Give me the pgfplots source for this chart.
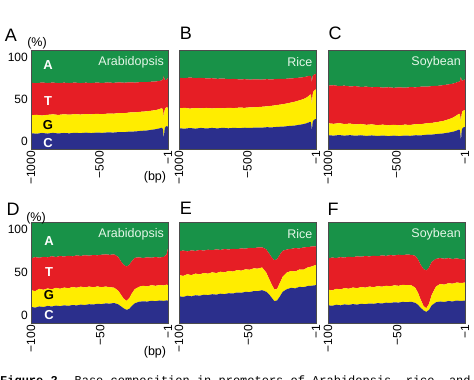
\documentclass[border=0pt]{standalone}
\usepackage{fontspec}
\setmainfont{Liberation Sans}
\newfontfamily\capfont{Liberation Mono}
\usepackage{pgfplots}
\pgfplotsset{compat=1.18}
\usepackage{pgfplotstable}

\definecolor{cA}{RGB}{24,146,72}
\definecolor{cT}{RGB}{230,30,37}
\definecolor{cG}{RGB}{255,237,0}
\definecolor{cC}{RGB}{43,47,140}
\definecolor{speccol}{RGB}{228,246,232}

% cumulative boundaries: b1 = C, b2 = C+G, b3 = C+G+T (percent)
\pgfplotstableread{
x b1 b2 b3
-1000 16.0 34.0 67.0
-960 15.4 34.6 66.4
-920 16.2 33.8 67.2
-880 15.6 34.5 66.6
-840 16.3 35.0 67.1
-800 15.7 34.4 66.5
-760 16.2 35.1 67.0
-720 15.8 34.6 66.6
-680 16.4 35.2 67.1
-640 16.0 34.8 66.5
-600 16.5 35.3 67.0
-560 16.1 35.0 66.6
-520 16.6 35.5 67.1
-480 16.3 35.1 66.7
-440 16.8 35.8 67.2
-400 16.6 35.6 66.8
-360 17.1 36.3 67.3
-320 17.0 36.2 66.9
-280 17.6 36.9 67.4
-240 17.7 37.0 67.1
-200 18.3 37.6 67.6
-160 18.6 38.0 67.5
-120 19.4 38.7 68.0
-90 20.0 39.3 68.2
-70 20.6 40.0 68.6
-55 21.2 40.8 69.0
-45 21.5 41.0 69.5
-38 20.0 40.0 70.5
-34 14.0 35.0 72.0
-32 11.0 31.0 74.0
-30 13.0 33.0 73.0
-27 18.5 38.0 71.0
-23 21.5 40.5 69.5
-18 22.5 41.5 69.5
-12 23.0 42.0 70.0
-6 23.0 42.0 71.0
-1 22.0 41.0 72.0
}\tabA

\pgfplotstableread{
x b1 b2 b3
-1000 21.0 41.0 72.0
-960 20.5 41.6 71.5
-920 21.2 40.8 72.2
-880 20.6 41.4 71.6
-840 21.3 41.0 71.9
-800 20.7 41.5 71.3
-760 21.3 40.9 71.5
-720 20.8 41.4 70.9
-680 21.4 41.1 71.2
-640 20.9 41.6 70.6
-600 21.4 41.3 70.8
-560 21.0 41.8 70.3
-520 21.5 41.6 70.5
-480 21.2 42.1 70.1
-440 21.7 42.2 70.4
-400 21.5 42.6 70.1
-360 22.0 43.1 70.5
-320 21.9 43.7 70.3
-280 22.4 44.5 70.8
-240 22.6 45.3 70.7
-200 23.2 46.4 71.2
-160 23.6 47.6 71.5
-120 24.5 49.2 72.1
-90 25.2 50.6 72.6
-70 26.0 52.0 73.2
-55 26.8 53.4 73.8
-45 27.4 54.8 74.0
-38 27.0 55.0 73.5
-34 23.0 50.0 71.0
-31 19.0 44.0 67.0
-29 21.0 46.0 69.0
-26 26.5 54.0 73.5
-22 28.5 57.5 74.6
-16 29.2 58.6 75.0
-10 30.0 59.5 75.4
-5 30.2 60.0 75.8
-1 30.0 60.0 76.0
}\tabB

\pgfplotstableread{
x b1 b2 b3
-1000 14.0 26.0 64.0
-960 13.5 25.4 64.4
-920 14.1 26.1 63.6
-880 13.5 25.2 64.0
-840 14.0 25.7 63.2
-800 13.4 24.8 63.5
-760 13.9 25.3 62.7
-720 13.2 24.4 63.0
-680 13.7 24.9 62.3
-640 13.1 24.1 62.7
-600 13.6 24.6 62.0
-560 13.0 23.9 62.4
-520 13.5 24.5 61.8
-480 13.0 23.9 62.3
-440 13.6 24.6 61.9
-400 13.3 24.3 62.5
-360 13.9 25.1 62.3
-320 13.8 25.1 63.0
-280 14.4 26.0 62.9
-240 14.6 26.4 63.6
-200 15.2 27.3 63.8
-160 15.7 28.3 64.5
-120 16.6 30.0 65.3
-90 17.4 31.6 66.0
-70 18.2 33.2 66.8
-55 19.0 34.6 67.6
-45 19.6 35.6 68.0
-38 19.0 35.5 68.5
-34 14.0 31.0 71.0
-31 9.0 27.0 73.0
-29 10.5 28.5 72.0
-26 17.5 34.5 69.5
-22 20.5 37.5 69.0
-16 21.4 38.4 69.4
-10 22.0 39.0 69.8
-5 22.2 39.2 70.0
-1 22.0 39.0 70.0
}\tabC

\pgfplotstableread{
x b1 b2 b3
-100 16.0 32.5 64.0
-97 15.2 31.5 65.2
-94 16.4 33.8 64.6
-91 15.8 32.9 65.5
-88 16.9 34.2 65.0
-85 16.3 33.4 66.1
-82 17.2 34.8 65.4
-79 16.7 33.9 66.3
-76 17.5 35.1 65.8
-73 17.0 34.4 66.6
-70 17.8 35.6 66.0
-67 17.4 34.9 66.9
-64 18.2 36.0 66.4
-61 17.8 35.2 67.1
-58 18.6 36.1 66.7
-55 18.3 35.4 67.3
-52 19.0 36.2 67.0
-49 18.7 35.5 67.6
-46 19.4 36.1 67.9
-43 19.2 35.4 67.5
-40 19.8 35.0 68.0
-37 18.5 32.0 65.5
-35 16.5 28.0 61.0
-33 14.5 24.0 57.5
-31 13.0 22.0 56.0
-29 14.0 24.5 57.5
-27 17.0 29.5 61.5
-25 19.5 33.5 64.5
-22 21.0 35.8 65.0
-19 21.5 36.9 64.3
-16 21.2 36.2 65.1
-13 22.0 37.4 64.6
-10 21.6 36.8 65.3
-7 22.3 37.6 64.8
-4 21.9 37.1 65.6
-2 22.4 38.0 68.0
-1 22.0 37.5 74.0
}\tabD

\pgfplotstableread{
x b1 b2 b3
-100 26.5 47.5 71.0
-97 25.8 46.6 71.8
-94 27.0 48.3 70.9
-91 26.4 47.4 71.9
-88 27.5 48.9 71.4
-85 27.0 48.1 72.3
-82 28.0 49.5 71.7
-79 27.6 48.8 72.6
-76 28.5 50.2 72.1
-73 28.1 49.4 72.9
-70 29.0 50.8 72.4
-67 28.6 50.1 73.2
-64 29.5 51.6 72.8
-61 29.2 50.9 73.5
-58 30.2 52.4 73.1
-55 29.9 51.8 73.9
-52 30.8 53.2 73.6
-49 30.6 52.7 74.4
-46 31.6 54.1 74.1
-43 31.5 53.8 74.8
-40 32.5 55.0 75.0
-37 31.0 50.0 73.0
-35 28.5 44.0 69.0
-33 25.0 38.0 65.0
-31 21.5 33.0 62.0
-29 22.5 34.0 63.5
-27 26.5 40.0 68.0
-25 31.0 46.0 71.5
-22 33.5 50.0 72.8
-19 34.8 51.5 73.4
-16 34.3 51.0 74.2
-13 35.8 53.0 73.8
-10 35.4 52.8 74.9
-7 36.6 55.0 75.1
-4 36.9 56.0 75.8
-1 37.5 57.5 76.0
}\tabE

\pgfplotstableread{
x b1 b2 b3
-100 17.6 33.0 64.0
-97 17.0 32.2 64.8
-94 18.1 33.9 64.3
-91 17.5 33.2 65.2
-88 18.4 34.6 64.8
-85 17.9 33.9 65.6
-82 18.7 35.1 65.2
-79 18.2 34.5 66.0
-76 19.0 35.6 65.6
-73 18.6 35.0 66.3
-70 19.3 36.1 65.9
-67 19.0 35.5 66.6
-64 19.7 36.5 66.2
-61 19.3 35.9 66.9
-58 20.1 36.9 66.5
-55 19.8 36.4 67.2
-52 20.5 37.3 66.9
-49 20.2 36.8 67.6
-46 20.9 37.8 67.2
-43 20.6 37.4 67.8
-40 21.0 37.5 67.5
-37 20.0 35.0 66.5
-35 18.0 30.0 63.0
-33 15.0 23.0 57.5
-31 12.5 17.0 53.5
-29 11.0 14.5 52.0
-27 13.0 19.0 55.0
-25 17.5 28.0 60.5
-22 20.5 36.0 63.5
-19 21.3 38.6 64.3
-16 20.8 38.0 63.6
-13 21.8 39.4 64.2
-10 21.3 38.9 63.4
-7 22.2 40.1 64.0
-4 21.8 39.6 63.2
-1 22.2 40.0 63.0
}\tabF

\newcommand\layers[1]{%
  \addplot[fill=cC, draw=none] table[x=x, y=b1] {#1} \closedcycle;
  \addplot[fill=cG, draw=none] table[x=x, y expr=\thisrow{b2}-\thisrow{b1}] {#1} \closedcycle;
  \addplot[fill=cT, draw=none] table[x=x, y expr=\thisrow{b3}-\thisrow{b2}] {#1} \closedcycle;
  \addplot[fill=cA, draw=none] table[x=x, y expr=100-\thisrow{b3}] {#1} \closedcycle;
}

\pgfplotsset{
  panel/.style={
    scale only axis, width=137pt, anchor=north west,
    ymin=0, ymax=100, stack plots=y, axis on top,
    axis line style={draw=black!70, line width=0.6pt},
    major tick length=0pt, tick style={draw=none},
    xticklabel style={rotate=90, anchor=east, inner sep=2pt,
      font=\fontsize{12}{13}\selectfont},
    yticklabel style={inner sep=3pt, font=\fontsize{12}{13}\selectfont},
    ytick=\empty,
  },
  toprow/.style={height=99pt, xmin=-1000, xmax=-1,
    xtick={-1000,-500,-1}, xticklabels={−1000,−500,−1}},
  botrow/.style={height=101pt, xmin=-100, xmax=-1,
    xtick={-100,-50,-1}, xticklabels={−100,−50,−1}},
  ylab/.style={ytick={0,50,100},
    yticklabel={\ifcase\ticknum\relax\raisebox{3.2pt}[0pt][0pt]{0}\or\raisebox{-4.3pt}[0pt][0pt]{50}\or\raisebox{-11.8pt}[0pt][0pt]{100}\fi}},
}

\begin{document}
\begin{tikzpicture}[x=1pt,y=1pt]
\useasboundingbox (0,0) rectangle (474,-380);
\clip (0,0) rectangle (474,-380);

% ---- top row ----
\begin{axis}[panel, toprow, ylab, at={(31pt,-50pt)}]
\layers{\tabA}
\end{axis}
\begin{axis}[panel, toprow, at={(179pt,-50pt)}]
\layers{\tabB}
\end{axis}
\begin{axis}[panel, toprow, at={(328pt,-50pt)}]
\layers{\tabC}
\end{axis}

% ---- bottom row ----
\begin{axis}[panel, botrow, ylab, at={(31pt,-222pt)}]
\layers{\tabD}
\end{axis}
\begin{axis}[panel, botrow, at={(179pt,-222pt)}]
\layers{\tabE}
\end{axis}
\begin{axis}[panel, botrow, at={(328pt,-222pt)}]
\layers{\tabF}
\end{axis}

% species names
\begin{scope}[every node/.style={anchor=east, text=speccol, inner sep=0pt,
    font=\fontsize{12.5}{13}\selectfont}]
\node at (164,-62) {Arabidopsis};
\node at (312.5,-62) {Rice};
\node at (461,-62) {Soybean};
\node at (164,-234) {Arabidopsis};
\node at (312.5,-234) {Rice};
\node at (461,-234) {Soybean};
\end{scope}

% panel letters
\begin{scope}[every node/.style={font=\fontsize{18}{18}\selectfont, inner sep=0pt}]
\node at (11,-35) {A};
\node at (186,-33.5) {B};
\node at (335,-33) {C};
\node at (13,-209) {D};
\node at (186,-208.5) {E};
\node at (333,-209) {F};
\end{scope}

% units
\begin{scope}[every node/.style={font=\fontsize{12.5}{13}\selectfont, inner sep=0pt}]
\node at (37,-43) {(\%)};
\node at (36,-218) {(\%)};
\node at (155,-177) {(bp)};
\node at (155,-352) {(bp)};
\end{scope}

% base letters
\begin{scope}[every node/.style={font=\bfseries\fontsize{13}{13}\selectfont, inner sep=0pt}]
\node[text=white] at (48,-65) {A};
\node[text=white] at (48,-101) {T};
\node[text=black] at (48,-125) {G};
\node[text=white] at (48,-143) {C};
\node[text=white] at (49,-241) {A};
\node[text=white] at (49,-272) {T};
\node[text=black] at (49,-295) {G};
\node[text=white] at (49,-315) {C};
\end{scope}

% caption (cut off at the bottom edge, as in the reference)
\node[anchor=base west, inner sep=0pt, font=\capfont\fontsize{12}{13}\selectfont]
  at (0,-384) {\textbf{Figure 2.} Base composition in promoters of Arabidopsis, rice, and};
\end{tikzpicture}
\end{document}
